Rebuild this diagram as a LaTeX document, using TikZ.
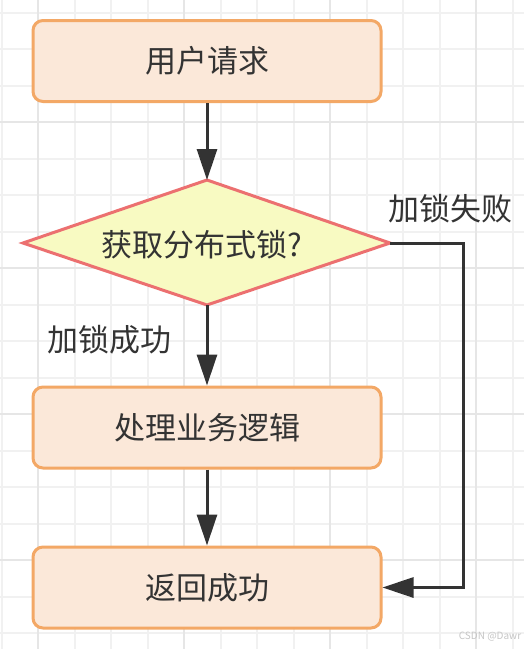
\documentclass[tikz,border=0pt]{standalone}
\usepackage{fontspec}
\setmainfont{Noto Sans CJK SC}
\usetikzlibrary{arrows.meta}
\definecolor{boxfill}{HTML}{FBE8D9}
\definecolor{boxline}{HTML}{F3A866}
\definecolor{diafill}{HTML}{F8FAC2}
\definecolor{dialine}{HTML}{EC7070}
\definecolor{txt}{HTML}{333333}
\definecolor{arr}{HTML}{333333}
\definecolor{gridminor}{HTML}{F1F1F1}
\definecolor{gridmajor}{HTML}{E6E6E6}
\begin{document}
\begin{tikzpicture}[x=1pt,y=-1pt,
  stepbox/.style={draw=boxline,fill=boxfill,line width=3pt,rounded corners=10pt,
    minimum width=348pt,minimum height=81pt,inner sep=0pt,text=txt,
    font=\fontsize{31}{36}\selectfont},
  lbl/.style={text=txt,font=\fontsize{31}{36}\selectfont,inner sep=0pt},
  conn/.style={draw=arr,line width=3pt,-{Triangle[length=31pt,width=20pt]}}]
\useasboundingbox (0,0) rectangle (524,649);
\fill[white] (0,0) rectangle (524,649);
% grid
\foreach \i in {0,...,14} {
  \draw[gridminor,line width=2pt] ({1.5+36.5*\i},0) -- ({1.5+36.5*\i},649);
}
\foreach \j in {0,...,17} {
  \draw[gridminor,line width=2pt] (0,{12.5+36.5*\j}) -- (524,{12.5+36.5*\j});
}
\foreach \i in {0,...,3} {
  \draw[gridmajor,line width=2pt] ({38+146*\i},0) -- ({38+146*\i},649);
}
\foreach \j in {0,...,3} {
  \draw[gridmajor,line width=2pt] (0,{122+146*\j}) -- (524,{122+146*\j});
}
% nodes
\node[stepbox] (req) at (207,61) {用户请求};
\coordinate (dT) at (207,180);
\coordinate (dB) at (207,305);
\coordinate (dL) at (23,243);
\coordinate (dR) at (390,243);
\draw[draw=dialine,fill=diafill,line width=3pt,line join=miter] (dT) -- (dR) -- (dB) -- (dL) -- cycle;
\node[lbl] (lock) at (202,245) {获取分布式锁?};
\node[stepbox] (proc) at (207,427.5) {处理业务逻辑};
\node[stepbox] (ret) at (207,587.5) {返回成功};
\coordinate (turn1) at (463,243);
\coordinate (turn2) at (463,587.5);
% connectors
\draw[conn] (req.south) -- (dT);
\draw[conn] (dB) -- (proc.north);
\draw[conn] (proc.south) -- (ret.north);
\draw[conn,line join=miter] (dR) -- (turn1) -- (turn2) -- (ret.east);
% labels
\node[lbl] (fail) at (450,209) {加锁失败};
\node[lbl] (ok) at (110,340) {加锁成功};
\node[text=gray!45,font=\fontsize{10}{12}\selectfont,inner sep=0pt] (wm) at (490,637) {CSDN @Dawr};
\end{tikzpicture}
\end{document}
